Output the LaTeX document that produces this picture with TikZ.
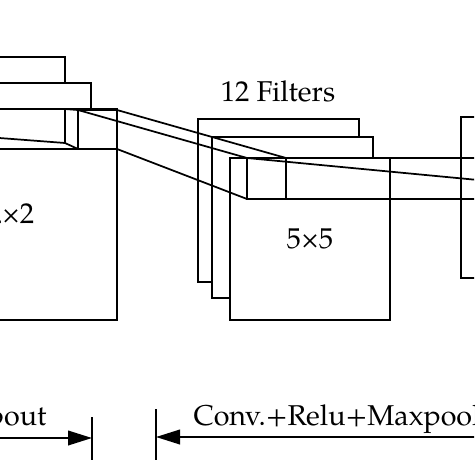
\documentclass[tikz,border=0pt]{standalone}
\usepackage{fontspec}
\setmainfont{TeX Gyre Pagella}
\usetikzlibrary{arrows.meta}

\tikzset{every picture/.style={line width=0.75pt}}
\tikzset{
  fmap/.style={draw=black, fill=white, line width=1.5},
  proj/.style={draw=black, line width=1.3},
  lbl/.style={inner sep=0.75pt, font=\fontsize{21.5}{24}\selectfont},
  spanarrow/.style={draw=black, line width=1.3, -{Triangle[length=18pt,width=11pt]}},
  spanbar/.style={draw=black, line width=1.5},
}

\begin{document}
\begin{tikzpicture}[x=0.75pt,y=0.75pt,yscale=-1,xscale=1]
\useasboundingbox (0,0) rectangle (474,474);
\clip (0,0) rectangle (474,474);

%Shapes: left stack of maps
\draw [fmap] (-110,57) rectangle (65,250);
\draw [fmap] (-90,83) rectangle (91,285);
\draw [fmap] (-70,109) rectangle (117,320);
%Shapes: middle stack of maps
\draw [fmap] (198,119) rectangle (359,282);
\draw [fmap] (212,137) rectangle (373,298);
\draw [fmap] (230,158) rectangle (390,320);
%Shapes: right stack of maps
\draw [fmap] (461,117) rectangle (620,278);

%Kernel corners
\coordinate (fk-tr) at (-40,135);
\coordinate (fk-br) at (-40,149);
\coordinate (lk-st) at (65,109);
\coordinate (lk-sb) at (65,143);
\coordinate (lk-tl) at (78,110);
\coordinate (lk-tr) at (117,110);
\coordinate (lk-bl) at (78,149);
\coordinate (lk-br) at (117,149);
\coordinate (mk-tl) at (247,158);
\coordinate (mk-tr) at (286,158);
\coordinate (mk-bl) at (247,199);
\coordinate (mk-br) at (286,199);
\coordinate (rk-tl) at (520,184);
\coordinate (rk-tr) at (520,158);
\coordinate (rk-br) at (520,199);

%Kernel boxes
\draw [proj] (lk-tl) rectangle (lk-br);
\draw [proj] (lk-st) -- (lk-tl);
\draw [proj] (lk-st) -- (lk-sb) -- (lk-bl);
\draw [proj] (mk-tl) rectangle (mk-br);

%Straight Lines: projections
\draw [proj] (fk-tr) -- (lk-sb);
\draw [proj] (fk-br) -- (lk-bl);
\draw [proj] (lk-tl) -- (mk-tl);
\draw [proj] (lk-tr) -- (mk-tr);
\draw [proj] (lk-br) -- (mk-bl);
\draw [proj] (mk-tr) -- (rk-tr);
\draw [proj] (mk-br) -- (rk-br);
\draw [proj] (mk-tl) -- (rk-tl);

% Text Node
\node (filters) [lbl, anchor=base] at (278,102) {12 Filters};
% Text Node
\node (size-mid) [lbl, anchor=base] at (310,248) {5×5};
% Text Node
\node (size-left) [lbl, anchor=base] at (11,223) {2×2};
% Text Node
\node (drop) [lbl, anchor=base east] at (48,425) {Dropout};
% Text Node
\node (conv) [lbl, anchor=base west] at (192,425) {Conv.+Relu+Maxpool};

%Span markers
\coordinate (bar1-t) at (92,417);
\coordinate (bar1-b) at (92,460);
\coordinate (bar2-t) at (156,409);
\coordinate (bar2-b) at (156,460);
\coordinate (drop-start) at (-30,438);
\coordinate (drop-end) at (92,438);
\coordinate (conv-start) at (520,437);
\coordinate (conv-end) at (156,437);
\draw [spanbar] (bar1-t) -- (bar1-b);
\draw [spanbar] (bar2-t) -- (bar2-b);
\draw [spanarrow] (drop-start) -- (drop-end);
\draw [spanarrow] (conv-start) -- (conv-end);

\end{tikzpicture}
\end{document}
